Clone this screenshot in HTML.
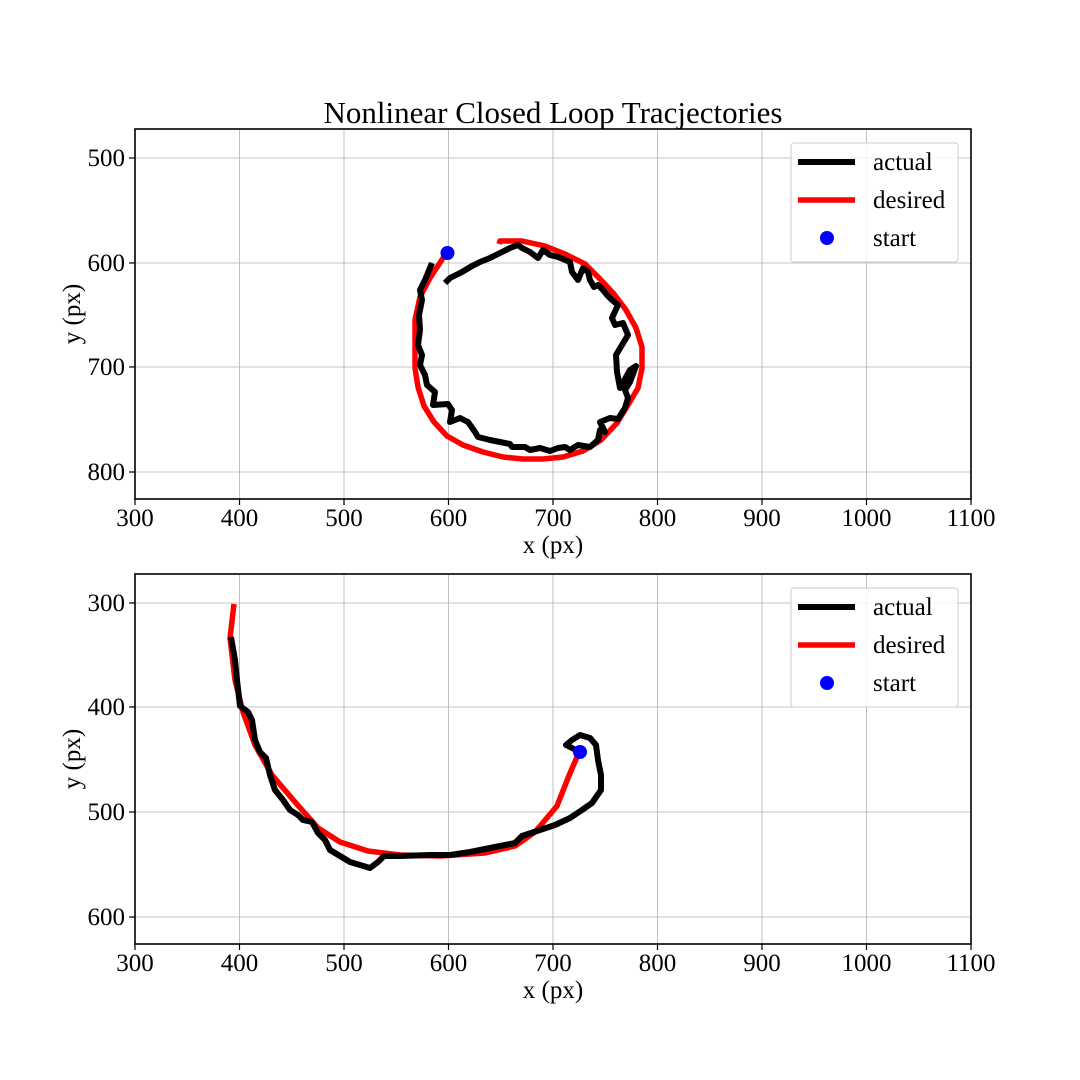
<!DOCTYPE html>
<html><head><meta charset="utf-8"><style>body{margin:0;background:#fff}svg{display:block}text{font-family:"Liberation Serif",serif;fill:#000}</style></head><body>
<svg width="1080" height="1080" viewBox="0 0 1080 1080" xmlns="http://www.w3.org/2000/svg">
<rect width="1080" height="1080" fill="#fff"/>
<g stroke="#b0b0b0" stroke-width="0.8">
<line x1="239.5" y1="129" x2="239.5" y2="499"/><line x1="344" y1="129" x2="344" y2="499"/><line x1="448.5" y1="129" x2="448.5" y2="499"/><line x1="553" y1="129" x2="553" y2="499"/><line x1="657.5" y1="129" x2="657.5" y2="499"/><line x1="762" y1="129" x2="762" y2="499"/><line x1="866.5" y1="129" x2="866.5" y2="499"/>
<line x1="135" y1="158" x2="971" y2="158"/><line x1="135" y1="263" x2="971" y2="263"/><line x1="135" y1="367" x2="971" y2="367"/><line x1="135" y1="472" x2="971" y2="472"/>
<line x1="239.5" y1="574" x2="239.5" y2="944"/><line x1="344" y1="574" x2="344" y2="944"/><line x1="448.5" y1="574" x2="448.5" y2="944"/><line x1="553" y1="574" x2="553" y2="944"/><line x1="657.5" y1="574" x2="657.5" y2="944"/><line x1="762" y1="574" x2="762" y2="944"/><line x1="866.5" y1="574" x2="866.5" y2="944"/>
<line x1="135" y1="603" x2="971" y2="603"/><line x1="135" y1="707" x2="971" y2="707"/><line x1="135" y1="812" x2="971" y2="812"/><line x1="135" y1="917" x2="971" y2="917"/>
</g>
<polyline fill="none" stroke="#f00" stroke-width="5.5" stroke-linejoin="round" points="499,244 500,241 522,241 545,246 565,254 585,264 600,279 614,294 626,310 636,328 642,347 642,368 638,388 628,405 617,423 601,440 583,451 563,457 543,459 523,459 503,457 483,452 463,445 447,436 434,422 424,406 418,387 415,368 415,345 415,320 420,297 430,278 445,255"/>
<polyline fill="none" stroke="#000" stroke-width="6" stroke-linejoin="round" points="432,263 425,280 420,290 422,300 419,315 420,330 418,345 422,355 420,365 425,375 427,385 435,392 433,405 448,404 452,410 450,422 460,418 468,422 475,432 478,437 490,440 500,442 510,444 512,447 525,447 530,450 540,448 550,451 558,448 565,447 570,450 578,445 590,447 598,440 600,430 605,432 600,422 610,418 618,419 625,408 628,398 625,390 630,382 636,366 630,370 620,388 617,372 616,355 622,345 628,335 623,323 615,325 612,318 618,305 612,300 607,295 603,290 598,285 594,287 590,280 588,272 583,268 578,280 572,272 570,262 558,257 550,255 543,250 538,258 530,252 522,248 518,245 510,248 500,253 490,258 480,262 472,266 462,272 450,278 445,283"/>
<circle cx="447.5" cy="253" r="7" fill="#00f"/>
<polyline fill="none" stroke="#f00" stroke-width="5.5" stroke-linejoin="round" points="234,604 230,638 235,680 243,712 255,745 272,775 295,802 318,828 340,842 368,851 400,855 440,856 485,853 515,846 535,832 557,806 568,778 580,750"/>
<polyline fill="none" stroke="#000" stroke-width="6" stroke-linejoin="round" points="231,637 235,660 237,680 240,706 248,712 252,720 255,740 260,752 266,758 270,775 275,790 283,800 290,810 298,815 303,820 312,822 318,833 325,840 330,850 340,856 350,862 360,865 370,868 378,862 384,856 400,856 430,855 450,855 470,852 490,848 500,846 515,843 522,836 540,830 555,825 570,818 582,810 592,803 601,790 601,775 598,760 596,745 590,738 580,735 572,740 566,745 572,748 580,752"/>
<circle cx="580" cy="752" r="7" fill="#00f"/>
<rect x="135" y="129" width="836" height="370" fill="none" stroke="#000" stroke-width="1.6"/>
<rect x="135" y="574" width="836" height="370" fill="none" stroke="#000" stroke-width="1.6"/>
<g stroke="#000" stroke-width="1.2">
<line x1="135" y1="499" x2="135" y2="505"/><line x1="239.5" y1="499" x2="239.5" y2="505"/><line x1="344" y1="499" x2="344" y2="505"/><line x1="448.5" y1="499" x2="448.5" y2="505"/><line x1="553" y1="499" x2="553" y2="505"/><line x1="657.5" y1="499" x2="657.5" y2="505"/><line x1="762" y1="499" x2="762" y2="505"/><line x1="866.5" y1="499" x2="866.5" y2="505"/><line x1="971" y1="499" x2="971" y2="505"/>
<line x1="135" y1="944" x2="135" y2="950"/><line x1="239.5" y1="944" x2="239.5" y2="950"/><line x1="344" y1="944" x2="344" y2="950"/><line x1="448.5" y1="944" x2="448.5" y2="950"/><line x1="553" y1="944" x2="553" y2="950"/><line x1="657.5" y1="944" x2="657.5" y2="950"/><line x1="762" y1="944" x2="762" y2="950"/><line x1="866.5" y1="944" x2="866.5" y2="950"/><line x1="971" y1="944" x2="971" y2="950"/>
<line x1="129" y1="158" x2="135" y2="158"/><line x1="129" y1="263" x2="135" y2="263"/><line x1="129" y1="367" x2="135" y2="367"/><line x1="129" y1="472" x2="135" y2="472"/>
<line x1="129" y1="603" x2="135" y2="603"/><line x1="129" y1="707" x2="135" y2="707"/><line x1="129" y1="812" x2="135" y2="812"/><line x1="129" y1="917" x2="135" y2="917"/>
</g>
<g font-size="25" text-anchor="middle">
<text x="135" y="526">300</text><text x="239.5" y="526">400</text><text x="344" y="526">500</text><text x="448.5" y="526">600</text><text x="553" y="526">700</text><text x="657.5" y="526">800</text><text x="762" y="526">900</text><text x="866.5" y="526">1000</text><text x="971" y="526">1100</text>
<text x="135" y="971">300</text><text x="239.5" y="971">400</text><text x="344" y="971">500</text><text x="448.5" y="971">600</text><text x="553" y="971">700</text><text x="657.5" y="971">800</text><text x="762" y="971">900</text><text x="866.5" y="971">1000</text><text x="971" y="971">1100</text>
<text x="553" y="553">x (px)</text><text x="553" y="998">x (px)</text>
<text x="553" y="123" font-size="31">Nonlinear Closed Loop Tracjectories</text>
</g>
<g font-size="25" text-anchor="end">
<text x="125" y="166">500</text><text x="125" y="271">600</text><text x="125" y="375">700</text><text x="125" y="480">800</text>
<text x="125" y="611">300</text><text x="125" y="715">400</text><text x="125" y="820">500</text><text x="125" y="925">600</text>
</g>
<text font-size="25" text-anchor="middle" transform="translate(80,314) rotate(-90)">y (px)</text>
<text font-size="25" text-anchor="middle" transform="translate(80,759) rotate(-90)">y (px)</text>
<g>
<rect x="791" y="143" width="167" height="119" rx="3" fill="#fff" fill-opacity="0.85" stroke="#ccc"/>
<line x1="798" y1="162" x2="855" y2="162" stroke="#000" stroke-width="6"/>
<line x1="798" y1="200" x2="855" y2="200" stroke="#f00" stroke-width="5.5"/>
<circle cx="827" cy="238" r="7" fill="#00f"/>
<text x="873" y="170" font-size="25">actual</text><text x="873" y="208" font-size="25">desired</text><text x="873" y="246" font-size="25">start</text>
</g>
<g>
<rect x="791" y="588" width="167" height="119" rx="3" fill="#fff" fill-opacity="0.85" stroke="#ccc"/>
<line x1="798" y1="607" x2="855" y2="607" stroke="#000" stroke-width="6"/>
<line x1="798" y1="645" x2="855" y2="645" stroke="#f00" stroke-width="5.5"/>
<circle cx="827" cy="683" r="7" fill="#00f"/>
<text x="873" y="615" font-size="25">actual</text><text x="873" y="653" font-size="25">desired</text><text x="873" y="691" font-size="25">start</text>
</g>
</svg>
</body></html>
